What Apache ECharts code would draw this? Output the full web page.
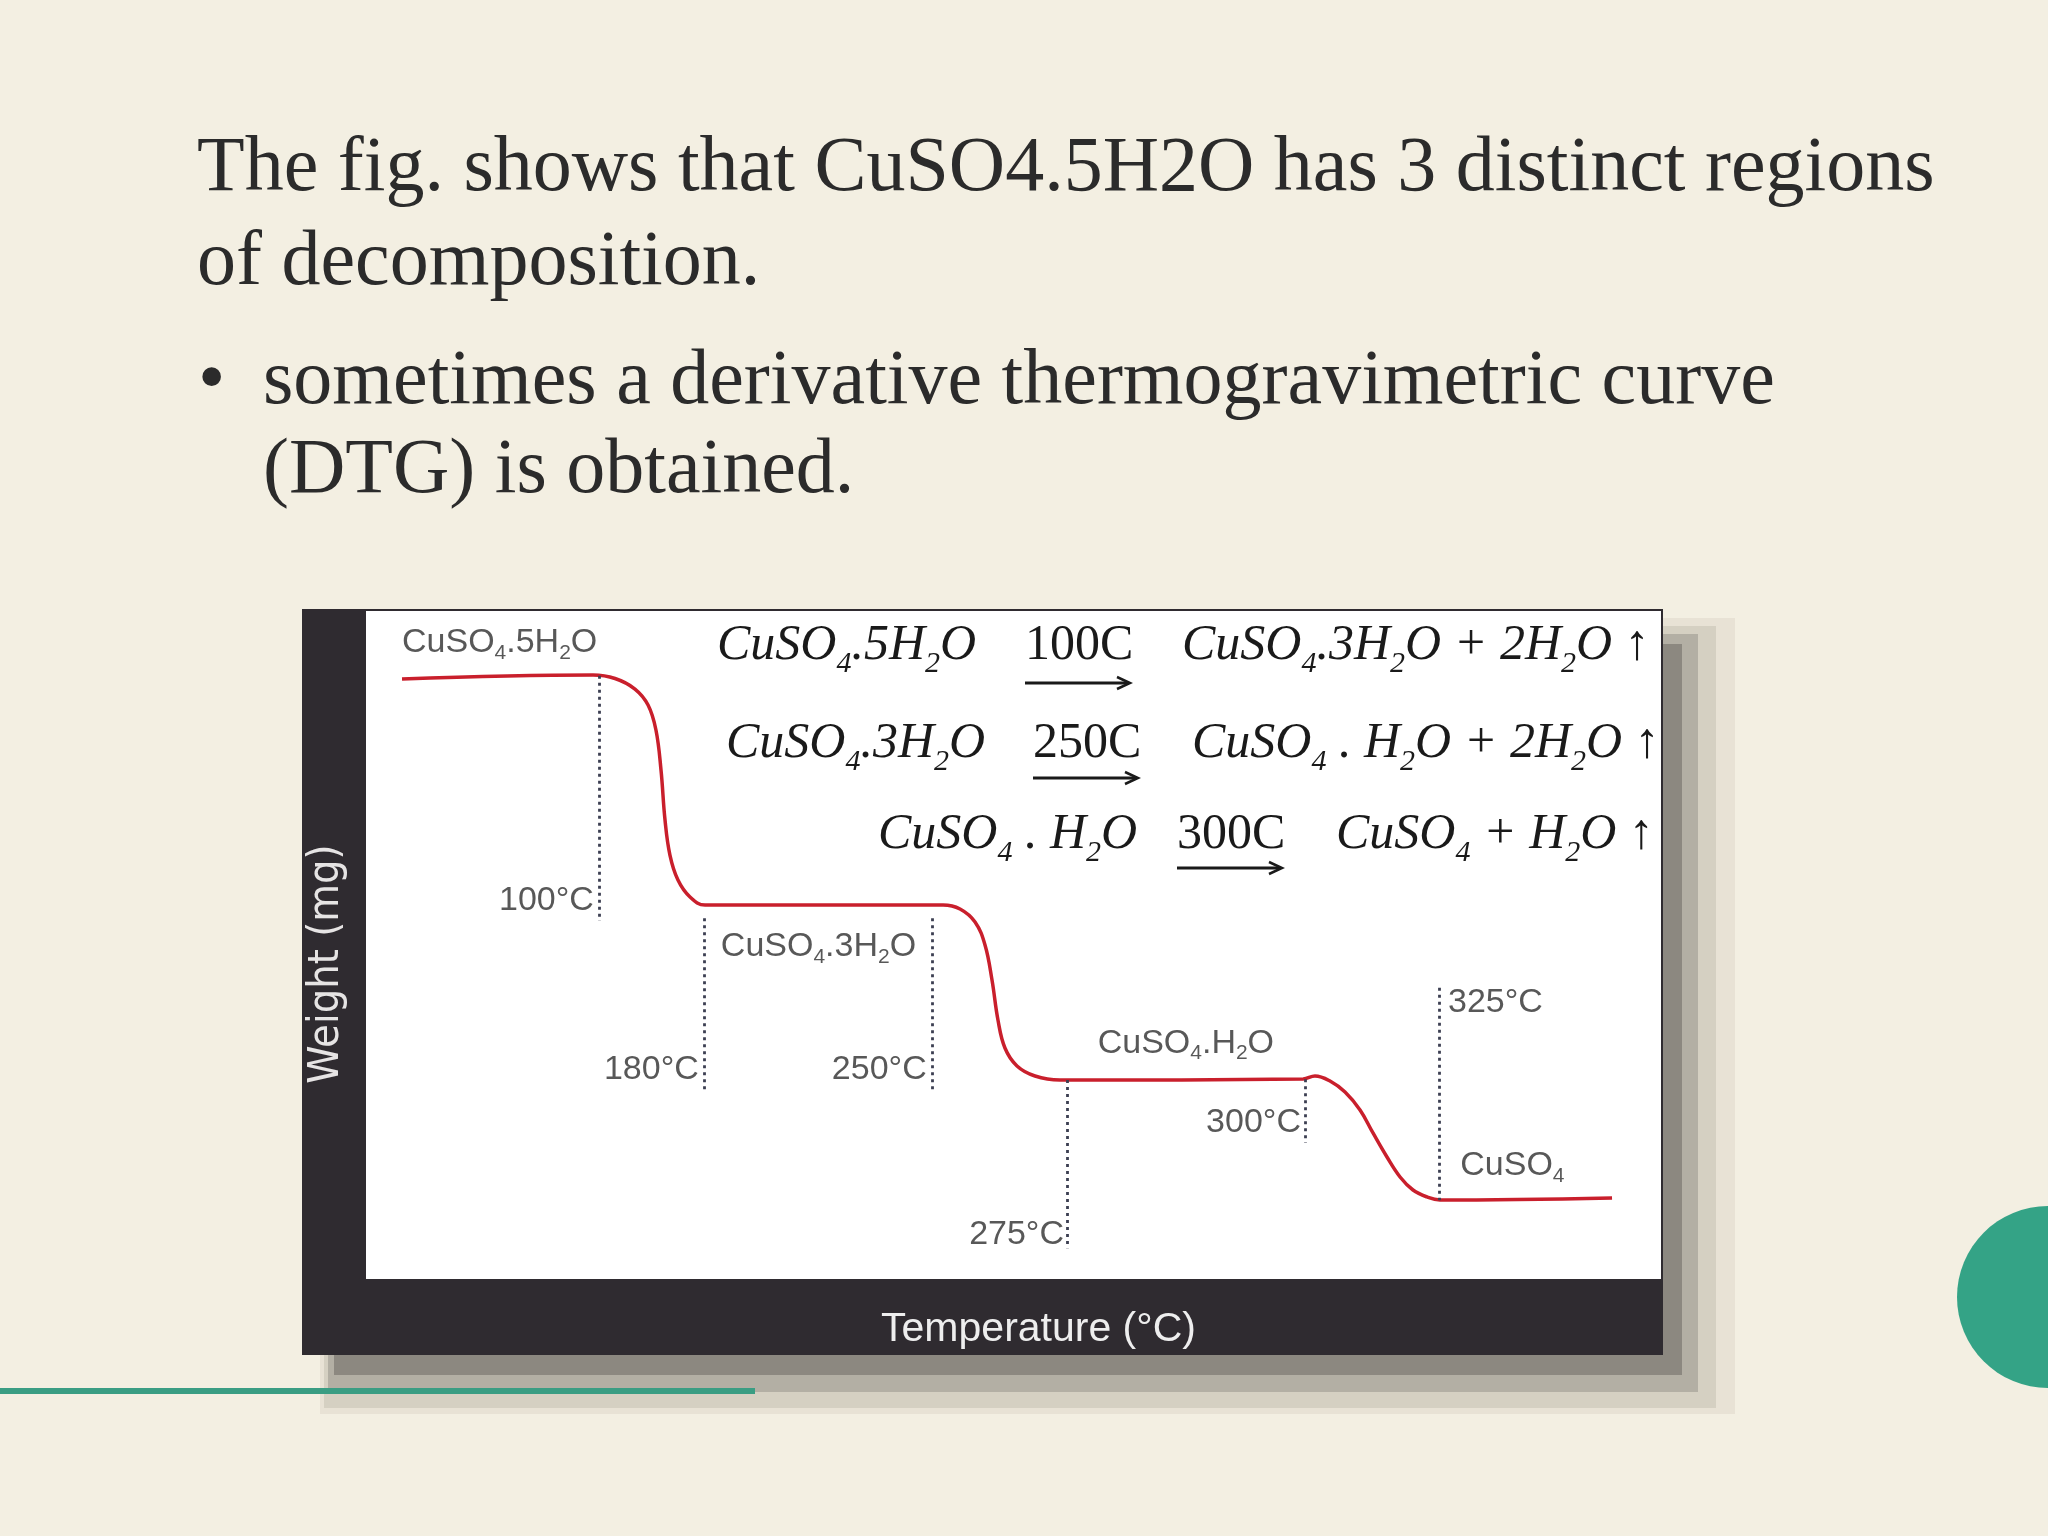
<!DOCTYPE html>
<html><head><meta charset="utf-8">
<script src="https://cdn.jsdelivr.net/npm/echarts@6/dist/echarts.min.js"></script>
<style>html,body{margin:0;padding:0;background:#f3efe2}#c{width:2048px;height:1536px}</style>
</head><body><div id="c"></div>
<script>
// TGA curve of CuSO4.5H2O (relative units: x = position along temperature axis, y = weight, both 0-100 of the plot)
const curveX = [2.78,17.53,19.23,20.77,21.78,22.39,22.78,23.09,23.47,24.09,25.02,26.18,44.56,45.87,47.03,47.80,48.34,48.80,49.34,50.27,51.66,53.59,72.36,73.28,74.44,75.60,76.76,77.76,78.84,79.85,80.85,81.93,82.93,96.22];
const curveY = [89.82,90.42,89.90,88.32,85.93,82.19,76.20,68.71,63.47,59.73,57.19,55.99,55.99,55.39,53.44,50.00,44.76,38.77,34.58,31.89,30.39,29.79,29.94,30.39,29.64,27.99,25.30,21.86,18.26,15.27,13.32,12.28,11.83,12.13];

// Temperature markers (dotted lines)
const markerTemps = ['100°C','180°C','250°C','275°C','300°C','325°C'];
const markerX = [17.99,26.10,43.71,54.13,72.51,82.86];
const markerTop = [90.3,54.0,54.0,29.8,29.9,43.6];
const markerBottom = [53.6,28.3,28.3,4.6,20.4,11.8];
const markerLabelX = [17.6,25.7,43.3,53.9,72.2,83.55];
const markerLabelY = [56.7,31.4,31.4,6.7,23.4,41.3];
const markerLabelSide = ['left','left','left','left','left','right'];

// Phase names on plateaus
const phaseNames = ['CuSO{s|4}.5H{s|2}O','CuSO{s|4}.3H{s|2}O','CuSO{s|4}.H{s|2}O','CuSO{s|4}'];
const phaseX = [2.78,27.4,56.5,84.5];
const phaseY = [95.3,49.7,35.3,17.0];

// Reaction equations
const eqReactants = ['CuSO{s|4}.5H{s|2}O','CuSO{s|4}.3H{s|2}O','CuSO{s|4} . H{s|2}O'];
const eqTemps = ['100C','250C','300C'];
const eqProducts = ['CuSO{s|4}.3H{s|2}O + 2H{s|2}O ↑','CuSO{s|4} . H{s|2}O + 2H{s|2}O ↑','CuSO{s|4} + H{s|2}O ↑'];

// Slide text
const headLines = ['The fig. shows that CuSO4.5H2O has 3 distinct regions','of decomposition.'];
const bulletLines = ['sometimes a derivative thermogravimetric curve','(DTG) is obtained.'];

const chart = echarts.init(document.getElementById('c'));

const serif = "'Liberation Serif', 'Times New Roman', serif";
const sans = "'Liberation Sans', Arial, sans-serif";
const eqRowY = [646,744,835], eqLeftX = [717,726,878], eqTempX = [1025,1033,1177], eqRightX = [1182,1192,1336], eqArrowY = [683,778,868];

const eqRich = {s:{fontSize:30,lineHeight:30,verticalAlign:'bottom',fontStyle:'italic',fontFamily:serif,fill:'#1a1a1a'}};
const graphics = [];
// shadow bands
[[320,618,1735,1414,'#e8e2d5'],[324,626,1716,1408,'#d5d0c2'],[328,634,1698,1392,'#b3afa4'],[334,644,1682,1375,'#8c8880']].forEach(b=>{
  graphics.push({type:'rect',z:0,shape:{x:b[0],y:b[1],width:b[2]-b[0],height:b[3]-b[1]},style:{fill:b[4]},silent:true});
});
graphics.push({type:'rect',z:0,shape:{x:302,y:609,width:1361,height:746},style:{fill:'#2f2b30'},silent:true});
graphics.push({type:'rect',z:0,shape:{x:366,y:611,width:1295,height:668},style:{fill:'#ffffff'},silent:true});
graphics.push({type:'rect',z:0,shape:{x:0,y:1388,width:755,height:6},style:{fill:'#3a9d83'},silent:true});
graphics.push({type:'circle',z:0,shape:{cx:2048,cy:1297,r:91},style:{fill:'#34a386'},silent:true});

const headY = [170,264], bulletY = [383,472];
headLines.forEach((t,i)=>graphics.push({type:'text',z:10,x:197,y:headY[i],style:{text:t,font:"78px "+serif,fill:'#2b2b2b',verticalAlign:'middle',align:'left'}}));
graphics.push({type:'text',z:10,x:198,y:bulletY[0],style:{text:'•',font:"78px "+serif,fill:'#2b2b2b',verticalAlign:'middle',align:'left'}});
bulletLines.forEach((t,i)=>graphics.push({type:'text',z:10,x:263,y:bulletY[i],style:{text:t,font:"78px "+serif,fill:'#2b2b2b',verticalAlign:'middle',align:'left'}}));

for (let i=0;i<3;i++){
  graphics.push({type:'text',z:10,x:eqLeftX[i],y:eqRowY[i],style:{text:eqReactants[i],fontFamily:serif,fontSize:50,fontStyle:'italic',lineHeight:66,fill:'#1a1a1a',verticalAlign:'middle',align:'left',rich:eqRich}});
  graphics.push({type:'text',z:10,x:eqTempX[i],y:eqRowY[i],style:{text:eqTemps[i],fontFamily:serif,fontSize:50,lineHeight:66,fill:'#1a1a1a',verticalAlign:'middle',align:'left'}});
  graphics.push({type:'text',z:10,x:eqRightX[i],y:eqRowY[i],style:{text:eqProducts[i],fontFamily:serif,fontSize:50,fontStyle:'italic',lineHeight:66,fill:'#1a1a1a',verticalAlign:'middle',align:'left',rich:eqRich}});
  const ax = eqTempX[i], ay = eqArrowY[i];
  graphics.push({type:'line',z:10,shape:{x1:ax,y1:ay,x2:ax+104,y2:ay},style:{stroke:'#1a1a1a',lineWidth:3}});
  graphics.push({type:'polyline',z:10,shape:{points:[[ax+92,ay-6],[ax+105,ay],[ax+92,ay+6]]},style:{stroke:'#1a1a1a',lineWidth:2.5,fill:null}});
}

const labelData = [];
phaseNames.forEach((n,i)=>labelData.push({name:n,value:[phaseX[i],phaseY[i]],label:{position:'right'}}));
markerTemps.forEach((n,i)=>labelData.push({name:n,value:[markerLabelX[i],markerLabelY[i]],label:{position:markerLabelSide[i]}}));

chart.setOption({
  backgroundColor:'#f3efe2',
  animation:false,
  textStyle:{fontFamily:sans},
  grid:{left:366,top:611,width:1295,height:668,show:false},
  xAxis:{type:'value',min:0,max:100,z:10,name:'Temperature (°C)',nameLocation:'middle',nameGap:30,
    nameTextStyle:{color:'#eeeeee',fontSize:41,fontFamily:sans,padding:[0,0,0,50]},
    axisLine:{show:false},axisTick:{show:false},axisLabel:{show:false},splitLine:{show:false}},
  yAxis:{type:'value',min:0,max:100,z:10,name:'Weight (mg)',nameLocation:'middle',nameGap:18,
    nameTextStyle:{color:'#e6e4e4',fontSize:43,fontFamily:"'DejaVu Sans Condensed', 'DejaVu Sans', sans-serif",padding:[0,38,0,0]},
    axisLine:{show:false},axisTick:{show:false},axisLabel:{show:false},splitLine:{show:false}},
  graphic:{elements:graphics},
  series:[
    {type:'line',z:3,data:curveX.map((x,i)=>[x,curveY[i]]),smooth:0.4,symbol:'none',silent:true,
      lineStyle:{color:'#c91f2c',width:3.5},
      markLine:{silent:true,symbol:['none','none'],label:{show:false},
        lineStyle:{type:[3,4],color:'#3c3f52',width:2.8},
        data:markerX.map((x,i)=>[{coord:[x,markerTop[i]]},{coord:[x,markerBottom[i]]}])}},
    {type:'scatter',z:4,silent:true,symbolSize:0,itemStyle:{color:'rgba(0,0,0,0)'},data:labelData,
      label:{show:true,distance:0,formatter:p=>p.name,fontFamily:sans,fontSize:34,lineHeight:42,color:'#2e2e2e',
        rich:{s:{fontSize:21,lineHeight:21,verticalAlign:'bottom',fontFamily:sans,color:'#2e2e2e'}}}}
  ]
});
</script></body></html>
